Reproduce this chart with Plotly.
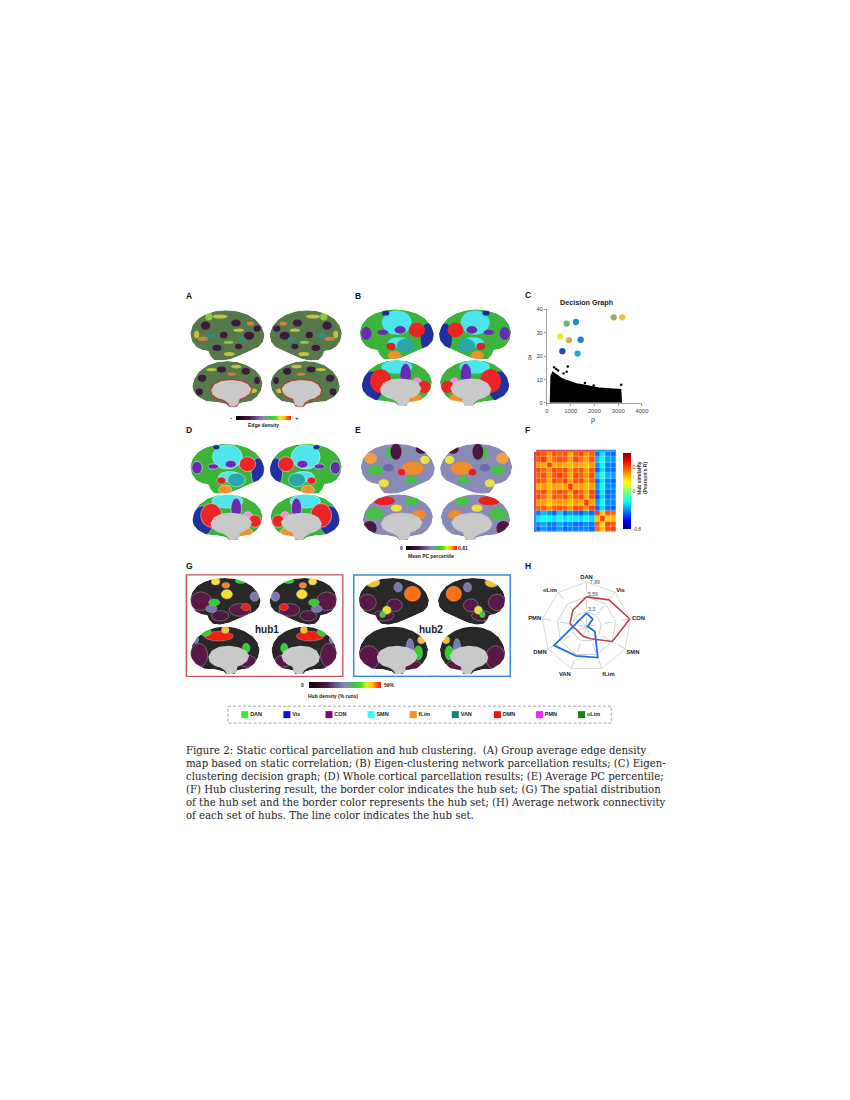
import plotly.graph_objects as go

W, H = 850, 1100
OFF = 8  # the page body margin the figure div sits inside
def X(px): return (px - OFF) / W
def Y(py): return 1 - (py - OFF) / H

# ---------------- data ----------------
# Panel C: decision graph
peak_rho = [560, 830, 1220, 930, 1420, 650, 1290, 2810, 3170]
peak_delta = [28.4, 33.9, 34.6, 26.8, 27.0, 22.1, 21.1, 36.6, 36.6]
peak_colors = ['#f2e232', '#5cb87c', '#1e90d2', '#d6ae52', '#1c80d0',
               '#2448b8', '#22a8c2', '#9ab062', '#e8c244']
cloud_rho = [150, 180, 250, 400, 600, 800, 1000, 1250, 1500, 1750, 2000,
             2250, 2500, 2750, 3000, 3100, 3130]
cloud_delta = [0, 11.5, 13.0, 11.8, 10.5, 9.6, 8.8, 8.1, 7.6, 7.1, 6.6,
               6.2, 6.0, 5.9, 5.8, 5.6, 0]
outlier_rho = [305, 390, 875, 833, 1600, 1970, 3125, 470, 700]
outlier_delta = [15.2, 14.5, 15.6, 13.3, 8.5, 7.4, 7.7, 13.8, 12.6]
c_xticks = [0, 1000, 2000, 3000, 4000]
c_yticks = [0, 10, 20, 30, 40]

# Panel F: hub similarity matrix (11 hubs of set 1, 4 hubs of set 2)
hub_sim = [
    [0.52, 0.48, 0.36, 0.50, 0.46, 0.49, 0.34, 0.47, 0.51, 0.37, 0.46, -0.45, -0.26, -0.41, -0.47],
    [0.48, 0.52, 0.34, 0.45, 0.49, 0.47, 0.36, 0.50, 0.44, 0.35, 0.48, -0.33, -0.20, -0.36, -0.38],
    [0.36, 0.34, 0.52, 0.33, 0.36, 0.32, 0.30, 0.35, 0.33, 0.29, 0.37, -0.40, -0.22, -0.42, -0.44],
    [0.50, 0.45, 0.33, 0.52, 0.48, 0.51, 0.36, 0.46, 0.49, 0.34, 0.47, -0.47, -0.27, -0.43, -0.46],
    [0.46, 0.49, 0.36, 0.48, 0.52, 0.46, 0.33, 0.50, 0.45, 0.37, 0.49, -0.31, -0.17, -0.34, -0.37],
    [0.49, 0.47, 0.32, 0.51, 0.46, 0.52, 0.36, 0.48, 0.50, 0.35, 0.46, -0.46, -0.26, -0.42, -0.48],
    [0.34, 0.36, 0.30, 0.36, 0.33, 0.36, 0.52, 0.34, 0.36, 0.30, 0.36, -0.38, -0.20, -0.40, -0.41],
    [0.47, 0.50, 0.35, 0.46, 0.50, 0.48, 0.34, 0.52, 0.47, 0.36, 0.51, -0.44, -0.25, -0.46, -0.43],
    [0.51, 0.44, 0.33, 0.49, 0.45, 0.50, 0.36, 0.47, 0.52, 0.33, 0.48, -0.48, -0.28, -0.45, -0.42],
    [0.37, 0.35, 0.29, 0.34, 0.37, 0.35, 0.30, 0.36, 0.33, 0.52, 0.35, -0.37, -0.19, -0.40, -0.41],
    [0.46, 0.48, 0.37, 0.47, 0.49, 0.46, 0.36, 0.51, 0.48, 0.35, 0.52, -0.46, -0.27, -0.44, -0.47],
    [-0.45, -0.33, -0.40, -0.47, -0.31, -0.46, -0.38, -0.44, -0.48, -0.37, -0.46, 0.52, 0.28, 0.47, 0.45],
    [-0.26, -0.20, -0.22, -0.27, -0.17, -0.26, -0.20, -0.25, -0.28, -0.19, -0.27, 0.28, 0.52, 0.26, 0.30],
    [-0.41, -0.36, -0.42, -0.43, -0.34, -0.42, -0.40, -0.46, -0.45, -0.40, -0.44, 0.47, 0.26, 0.52, 0.48],
    [-0.47, -0.38, -0.44, -0.46, -0.37, -0.48, -0.41, -0.43, -0.42, -0.41, -0.47, 0.45, 0.30, 0.48, 0.52],
]
n_hub1 = 11
sim_ticks = [-0.8, 0, 0.5]
sim_ticktext = ['-0.8', '0', '0.5']

# Panel H: average network connectivity of each hub set
networks = ['DAN', 'Vis', 'CON', 'SMN', 'fLim', 'VAN', 'DMN', 'PMN', 'oLim']
hub1_conn = [5.6, 6.4, 7.8, 5.6, 3.0, 2.6, 2.5, 3.6, 4.3]
hub2_conn = [3.1, 2.5, 1.2, 2.5, 6.1, 5.8, 6.8, 2.8, 2.5]
radar_ticks = [3.3, 5.59, 7.89]
radar_ticktext = ['3.3', '5.59', '7.89']

# network legend
net_colors = ['#33ee33', '#0a0af0', '#800080', '#33ffff', '#ff8c1a',
              '#138080', '#ee1111', '#ff22ff', '#138013']

caption = [
    "Figure 2: Static cortical parcellation and hub clustering.  (A) Group average edge density",
    "map based on static correlation; (B) Eigen-clustering network parcellation results; (C) Eigen-",
    "clustering decision graph; (D) Whole cortical parcellation results; (E) Average PC percentile;",
    "(F) Hub clustering result, the border color indicates the hub set; (G) The spatial distribution",
    "of the hub set and the border color represents the hub set; (H) Average network connectivity",
    "of each set of hubs. The line color indicates the hub set.",
]

# ---------------- styles ----------------
SANS = 'Liberation Sans, Arial, sans-serif'
SERIF = 'DejaVu Serif, serif'
RED = '#c8505a'
BLUE = '#3a8ae0'
jet = [[0, '#00007f'], [0.11, '#0000ff'], [0.36, '#00ffff'], [0.62, '#ffff00'],
       [0.89, '#ff0000'], [1, '#7f0000']]
dens = [[0, '#000000'], [0.12, '#2d0a24'], [0.25, '#4a1a4a'], [0.38, '#6a5a90'],
        [0.5, '#8a8ab8'], [0.62, '#4fb84f'], [0.72, '#40e020'], [0.8, '#e0f020'],
        [0.88, '#ffc000'], [0.94, '#ff6000'], [1, '#ff1a00']]

fig = go.Figure()

# ---------------- Panel C ----------------
fig.add_trace(go.Scatter(x=cloud_rho, y=cloud_delta, mode='lines', fill='tozeroy',
                         line=dict(color='black', width=1.5), fillcolor='black',
                         xaxis='x', yaxis='y', hoverinfo='skip', showlegend=False))
fig.add_trace(go.Scatter(x=outlier_rho, y=outlier_delta, mode='markers',
                         marker=dict(color='black', size=2.5), xaxis='x', yaxis='y',
                         showlegend=False))
fig.add_trace(go.Scatter(x=peak_rho, y=peak_delta, mode='markers',
                         marker=dict(color=peak_colors, size=6.3), xaxis='x', yaxis='y',
                         showlegend=False))

# ---------------- Panel F ----------------
fig.add_trace(go.Heatmap(z=hub_sim, colorscale=jet, zmin=-0.8, zmax=0.8,
                         xaxis='x2', yaxis='y2', showscale=True, xgap=0.3, ygap=0.3,
                         colorbar=dict(x=X(627), xanchor='left', y=Y(491), yanchor='middle',
                                       len=76, lenmode='pixels', thickness=8,
                                       thicknessmode='pixels', tickvals=sim_ticks,
                                       ticktext=sim_ticktext, ticks='', outlinewidth=0,
                                       xpad=0, ypad=0,
                                       tickfont=dict(size=5, family=SANS, color='#333'))))

# ---------------- Panel H ----------------
fig.add_trace(go.Scatterpolar(r=hub1_conn + hub1_conn[:1], theta=networks + networks[:1],
                              mode='lines', line=dict(color='#c0404c', width=1.6),
                              showlegend=False, subplot='polar'))
fig.add_trace(go.Scatterpolar(r=hub2_conn + hub2_conn[:1], theta=networks + networks[:1],
                              mode='lines', line=dict(color='#2070d8', width=1.8),
                              showlegend=False, subplot='polar'))

# ---------------- network legend ----------------
leg_x = [245 + 42.5 * i for i in range(len(networks))]
fig.add_trace(go.Scatter(x=leg_x, y=[715.5] * len(networks), mode='markers+text',
                         marker=dict(symbol='square', size=7, color=net_colors),
                         text=['<b>%s</b>' % n for n in networks], textposition='middle right',
                         textfont=dict(size=5.5, family=SANS, color='#222'),
                         xaxis='x9', yaxis='y9', showlegend=False, hoverinfo='skip'))

# ---------------- horizontal colour bars (A, E, G) ----------------
def hbar(cx, cy, length, thick):
    fig.add_trace(go.Scatter(x=[-100], y=[-100], mode='markers', xaxis='x9', yaxis='y9',
                             showlegend=False, hoverinfo='skip',
                             marker=dict(color=[0], cmin=0, cmax=1, colorscale=dens,
                                         showscale=True, size=1,
                                         colorbar=dict(orientation='h', x=X(cx), xanchor='center',
                                                       y=Y(cy), yanchor='middle', len=length,
                                                       lenmode='pixels', thickness=thick,
                                                       thicknessmode='pixels',
                                                       showticklabels=False, ticks='',
                                                       outlinewidth=0, xpad=0, ypad=0))))

hbar(264, 417, 55, 4)
hbar(433, 547.7, 51, 4)
hbar(346, 686, 72, 6)

# ---------------- brain surfaces (decorative) ----------------
LAT = [(0.0, 0.45), (0.03, 0.3), (0.1, 0.17), (0.2, 0.08), (0.33, 0.02), (0.48, 0.0),
       (0.63, 0.02), (0.77, 0.08), (0.88, 0.18), (0.96, 0.32), (1.0, 0.48), (0.98, 0.62),
       (0.92, 0.72), (0.8, 0.8), (0.68, 0.88), (0.55, 0.96), (0.42, 1.0), (0.32, 0.98),
       (0.27, 0.9), (0.24, 0.8), (0.16, 0.78), (0.08, 0.72), (0.02, 0.6)]
MED = [(0.0, 0.55), (0.03, 0.38), (0.1, 0.22), (0.22, 0.09), (0.36, 0.02), (0.5, 0.0),
       (0.64, 0.02), (0.78, 0.09), (0.9, 0.2), (0.97, 0.33), (1.0, 0.48), (0.98, 0.64),
       (0.92, 0.78), (0.84, 0.87), (0.74, 0.9), (0.67, 0.92), (0.64, 1.0), (0.52, 1.0),
       (0.48, 0.94), (0.36, 0.9), (0.2, 0.88), (0.08, 0.78), (0.02, 0.67)]
WALL = [(0.26, 0.63), (0.31, 0.5), (0.42, 0.42), (0.56, 0.4), (0.7, 0.43), (0.8, 0.5),
        (0.85, 0.61), (0.82, 0.72), (0.75, 0.8), (0.68, 0.84), (0.66, 0.96), (0.6, 1.0),
        (0.53, 1.0), (0.5, 0.92), (0.44, 0.86), (0.35, 0.82), (0.28, 0.74)]

STYLES = {
    'A': dict(base='#56794c', line=None, wall_line='#b0402a', lat=[
        ('#3d1a3e', 0.14, 0.22, 0.27, 0.38), ('#3d1a3e', 0.55, 0.18, 0.68, 0.32),
        ('#3d1a3e', 0.4, 0.42, 0.5, 0.55), ('#3d1a3e', 0.72, 0.42, 0.86, 0.58),
        ('#3d1a3e', 0.3, 0.68, 0.42, 0.8), ('#3d1a3e', 0.6, 0.66, 0.7, 0.77),
        ('#3d1a3e', 0.85, 0.3, 0.95, 0.42), ('#c4c23c', 0.3, 0.08, 0.5, 0.16),
        ('#c4c23c', 0.58, 0.36, 0.72, 0.42), ('#c4c23c', 0.45, 0.82, 0.6, 0.9),
        ('#c4c23c', 0.05, 0.4, 0.12, 0.55), ('#d8803a', 0.1, 0.52, 0.24, 0.6),
        ('#d8803a', 0.76, 0.22, 0.86, 0.3), ('#2f8c80', 0.22, 0.45, 0.34, 0.55),
        ('#2f8c80', 0.65, 0.52, 0.75, 0.62), ('#8cc840', 0.45, 0.6, 0.58, 0.66),
        ('#8cc840', 0.2, 0.05, 0.3, 0.2)], med=[
        ('#3d1a3e', 0.08, 0.3, 0.2, 0.45), ('#3d1a3e', 0.35, 0.12, 0.48, 0.25),
        ('#3d1a3e', 0.7, 0.15, 0.82, 0.3), ('#3d1a3e', 0.88, 0.35, 0.96, 0.5),
        ('#3d1a3e', 0.05, 0.6, 0.15, 0.75), ('#c4c23c', 0.2, 0.15, 0.35, 0.22),
        ('#c4c23c', 0.55, 0.08, 0.7, 0.16), ('#c4c23c', 0.82, 0.6, 0.92, 0.7),
        ('#d8803a', 0.5, 0.25, 0.62, 0.32)]),
    'B': dict(base='#3cb43c', line=None, wall_line=None, lat=[
        ('#4de6ec', 0.3, 0.02, 0.7, 0.5), ('#4de6ec', 0.38, 0.55, 0.68, 0.75),
        ('#2ba6a8', 0.5, 0.58, 0.74, 0.85), ('#2030a0', 0.82, 0.28, 1.0, 0.85),
        ('#ec2424', 0.66, 0.26, 0.88, 0.55), ('#6a2ab4', 0.02, 0.35, 0.16, 0.6),
        ('#6a2ab4', 0.47, 0.33, 0.62, 0.48), ('#6a2ab4', 0.24, 0.4, 0.38, 0.5),
        ('#f09030', 0.38, 0.82, 0.56, 1.0), ('#e02020', 0.36, 0.66, 0.48, 0.8),
        ('#1a2a90', 0.3, 0.02, 0.4, 0.12)], med=[
        ('#2030a0', 0.0, 0.25, 0.3, 0.9), ('#4de6ec', 0.28, 0.0, 0.72, 0.3),
        ('#ec2424', 0.12, 0.2, 0.42, 0.72), ('#6a2ab4', 0.55, 0.08, 0.7, 0.55),
        ('#f090e0', 0.72, 0.38, 0.86, 0.6), ('#ec2424', 0.8, 0.45, 0.98, 0.72),
        ('#f09030', 0.6, 0.72, 0.86, 0.95)]),
    'E': dict(base='#8a8ab6', line=None, wall_line=None, lat=[
        ('#f08c30', 0.55, 0.35, 0.85, 0.62), ('#f0a040', 0.05, 0.18, 0.22, 0.4),
        ('#46c046', 0.1, 0.42, 0.3, 0.62), ('#46c046', 0.33, 0.08, 0.5, 0.3),
        ('#46c046', 0.6, 0.64, 0.76, 0.8), ('#4a1840', 0.4, 0.0, 0.55, 0.32),
        ('#4a1840', 0.74, 0.02, 0.9, 0.2), ('#f0e040', 0.24, 0.7, 0.38, 0.86),
        ('#f0e040', 0.8, 0.24, 0.93, 0.4), ('#e82020', 0.5, 0.5, 0.6, 0.63),
        ('#6a6ab0', 0.3, 0.4, 0.45, 0.55)], med=[
        ('#e82020', 0.15, 0.04, 0.46, 0.24), ('#f0e040', 0.4, 0.22, 0.56, 0.38),
        ('#46c046', 0.04, 0.3, 0.3, 0.56), ('#46c046', 0.6, 0.04, 0.8, 0.24),
        ('#f08c30', 0.7, 0.34, 0.9, 0.55), ('#4a1840', 0.0, 0.58, 0.2, 0.9)]),
    'G1': dict(base='#282828', line='rgba(190,190,190,0.7)', wall_line=None, lat=[
        ('#5a1848', 0.0, 0.3, 0.3, 0.7), ('#5a1848', 0.55, 0.55, 0.86, 0.82),
        ('#4a1a40', 0.3, 0.7, 0.55, 0.92), ('#7a78b0', 0.22, 0.58, 0.38, 0.74),
        ('#f8e030', 0.44, 0.25, 0.6, 0.45), ('#f8e030', 0.3, 0.0, 0.42, 0.15),
        ('#30d030', 0.26, 0.45, 0.42, 0.6), ('#30d030', 0.64, 0.0, 0.8, 0.12),
        ('#f02010', 0.72, 0.55, 0.86, 0.7), ('#ff8020', 0.45, 0.1, 0.56, 0.22),
        ('#7a78b0', 0.85, 0.3, 0.98, 0.5)], med=[
        ('#5a1848', 0.0, 0.35, 0.25, 0.85), ('#5a1848', 0.7, 0.6, 0.95, 0.85),
        ('#f02010', 0.2, 0.1, 0.62, 0.3), ('#30d030', 0.14, 0.02, 0.3, 0.2),
        ('#30d030', 0.75, 0.35, 0.86, 0.55), ('#f8c030', 0.45, 0.0, 0.56, 0.14),
        ('#7a78b0', 0.0, 0.2, 0.12, 0.35)]),
    'G2': dict(base='#282828', line='rgba(190,190,190,0.7)', wall_line=None, lat=[
        ('#5a1848', 0.0, 0.35, 0.25, 0.7), ('#5a1848', 0.4, 0.45, 0.62, 0.72),
        ('#4a1a40', 0.2, 0.7, 0.5, 0.92), ('#ff7010', 0.65, 0.18, 0.88, 0.5),
        ('#f0c030', 0.1, 0.0, 0.3, 0.2), ('#e8e030', 0.34, 0.6, 0.46, 0.78),
        ('#7a78b0', 0.5, 0.1, 0.62, 0.3), ('#30d030', 0.3, 0.72, 0.38, 0.85)], med=[
        ('#5a1848', 0.0, 0.4, 0.3, 0.9), ('#5a1848', 0.6, 0.7, 0.9, 0.92),
        ('#7a78b0', 0.68, 0.25, 0.8, 0.7), ('#30d030', 0.8, 0.4, 0.92, 0.7),
        ('#f0c030', 0.85, 0.2, 0.96, 0.36)]),
}
STYLES['D'] = dict(STYLES['B'], line='rgba(255,255,255,0.75)')

BOX_STD = [('lat', False, (190, 309, 75, 51)), ('lat', True, (270, 309, 73, 51)),
           ('med', False, (192, 360, 71, 46)), ('med', True, (271, 360, 70, 46))]
BOX_G = [('lat', False, (190, 578, 71, 47)), ('lat', True, (270, 578, 68, 47)),
         ('med', False, (190, 627, 70, 48)), ('med', True, (272, 627, 66, 48))]
PANELS = [('A', BOX_STD, 0, 0), ('B', BOX_STD, 171, -1), ('D', BOX_STD, 0, 134),
          ('E', BOX_STD, 172, 134), ('G1', BOX_G, 0, 0), ('G2', BOX_G, 170, 0)]

shapes = []

def tf(pts, box, mirror):
    x0, y0, w, h = box
    return [(x0 + ((1 - u) if mirror else u) * w, y0 + v * h) for u, v in pts]

def area(pts):
    s = 0
    for i in range(len(pts)):
        x1, y1 = pts[i]
        x2, y2 = pts[(i + 1) % len(pts)]
        s += x1 * y2 - x2 * y1
    return s

def pstr(pts):
    return 'M' + ' L'.join('%.2f,%.2f' % p for p in pts) + ' Z'

for key, boxes, dx, dy in PANELS:
    st = STYLES[key]
    for kind, mirror, (bx, by, bw, bh) in boxes:
        box = (bx + dx, by + dy, bw, bh)
        outline = tf(LAT if kind == 'lat' else MED, box, mirror)
        shapes.append(dict(type='path', path=pstr(outline), xref='x9', yref='y9',
                           fillcolor=st['base'], line=dict(width=0), layer='above'))
        for col, u0, v0, u1, v1 in st[kind]:
            if mirror:
                u0, u1 = 1 - u1, 1 - u0
            ln = dict(width=0.6, color=st['line']) if st['line'] else dict(width=0)
            shapes.append(dict(type='circle', xref='x9', yref='y9',
                               x0=box[0] + u0 * bw, x1=box[0] + u1 * bw,
                               y0=box[1] + v0 * bh, y1=box[1] + v1 * bh,
                               fillcolor=col, line=ln, layer='above'))
        if kind == 'med':
            wl = dict(width=1.2, color=st['wall_line']) if st['wall_line'] else dict(width=0)
            shapes.append(dict(type='path', path=pstr(tf(WALL, box, mirror)), xref='x9',
                               yref='y9', fillcolor='#c9c9c9', line=wl, layer='above'))
        rect = tf([(-0.02, -0.02), (1.02, -0.02), (1.02, 1.02), (-0.02, 1.02)], box, mirror)
        if (area(rect) > 0) == (area(outline) > 0):
            rect = rect[::-1]
        shapes.append(dict(type='path', path=pstr(rect) + ' ' + pstr(outline), xref='x9',
                           yref='y9', fillcolor='white', line=dict(width=0), layer='above'))

# hub-set boxes in G
shapes.append(dict(type='rect', xref='x9', yref='y9', x0=186, x1=344, y0=575, y1=677,
                   line=dict(color=RED, width=1.3), layer='below'))
shapes.append(dict(type='rect', xref='x9', yref='y9', x0=355, x1=513, y0=575, y1=677,
                   line=dict(color=BLUE, width=1.5), layer='below'))
# legend box
shapes.append(dict(type='rect', xref='x9', yref='y9', x0=228, x1=615, y0=707, y1=724,
                   line=dict(color='#8a8a8a', width=0.8, dash='3px,2px'), layer='below'))
# hub-set borders in F
shapes += [
    dict(type='rect', xref='x2', yref='y2', x0=-0.5, x1=n_hub1 - 0.5, y0=-0.9, y1=-0.5,
         fillcolor=RED, line=dict(width=0)),
    dict(type='rect', xref='x2', yref='y2', x0=n_hub1 - 0.5, x1=len(hub_sim) - 0.5,
         y0=-0.9, y1=-0.5, fillcolor=BLUE, line=dict(width=0)),
    dict(type='rect', xref='x2', yref='y2', y0=-0.5, y1=n_hub1 - 0.5, x0=-0.9, x1=-0.5,
         fillcolor=RED, line=dict(width=0)),
    dict(type='rect', xref='x2', yref='y2', y0=n_hub1 - 0.5, y1=len(hub_sim) - 0.5,
         x0=-0.9, x1=-0.5, fillcolor=BLUE, line=dict(width=0)),
]

# ---------------- annotations ----------------
ann = []
def txt(x, y, s, size=6, bold=False, color='#222', family=SANS, xanchor='center', **kw):
    ann.append(dict(x=X(x), y=Y(y), xref='paper', yref='paper', showarrow=False,
                    text=('<b>%s</b>' % s) if bold else s, xanchor=xanchor, yanchor='middle',
                    font=dict(size=size, color=color, family=family), **kw))

for lab, (lx, ly) in zip('ABCDEFGH', [(189, 295), (359, 295), (531, 294), (189, 429),
                                      (359, 429), (530, 429), (189, 566), (531, 566)]):
    txt(lx, ly, lab, size=8.5, bold=True, color='#111')

txt(590, 301, 'Decision Graph', size=7.2, bold=True, color='#222')
txt(533, 356, 'δ', size=7, color='#333')
txt(597, 419, 'ρ', size=7, color='#333')
txt(231.5, 417.5, '-', size=6, bold=True)
txt(297.5, 417.5, '+', size=6, bold=True)
txt(264, 424.5, 'Edge density', size=5, bold=True)
txt(403, 548, '0', size=5, bold=True)
txt(465, 548, '0.81', size=5, bold=True)
txt(433, 556, 'Mean PC percentile', size=5, bold=True)
txt(303.5, 686, '0', size=5, bold=True)
txt(391, 686, '59%', size=5, bold=True)
txt(334, 697, 'Hub density (% runs)', size=5, bold=True)
txt(267, 630, 'hub1', size=10, bold=True, color='#1a1a1a')
txt(433, 630, 'hub2', size=10, bold=True, color='#1a1a1a')
txt(646, 477, 'Hub similarity<br>(Pearson\'s R)', size=5, bold=True, color='#333',
    textangle=-90)
# radial tick labels of the radar chart, placed beside the DAN spoke
for (lx, ly), t in zip([(595, 609), (597, 594), (599, 582)], radar_ticktext):
    txt(lx, ly, t, size=5, color='#444')
for i, line in enumerate(caption):
    txt(184, 751.5 + 13.05 * i, line, size=10.15, family=SERIF, color='#222', xanchor='left')

# ---------------- layout ----------------
axis_c = dict(showline=True, linecolor='#a0a0a0', linewidth=0.8, ticks='outside', ticklen=2,
              tickcolor='#a0a0a0', tickfont=dict(size=5.8, family=SANS, color='#444'),
              showgrid=False, zeroline=False, fixedrange=True)

fig.update_layout(
    width=W, height=H, margin=dict(l=0, r=0, t=0, b=0), autosize=False,
    paper_bgcolor='white', plot_bgcolor='rgba(0,0,0,0)', showlegend=False,
    xaxis=dict(domain=[X(550), X(646)], range=[0, 4000], tickvals=c_xticks, anchor='y',
               **axis_c),
    yaxis=dict(domain=[Y(402), Y(308)], range=[0, 40], tickvals=c_yticks, anchor='x',
               **axis_c),
    xaxis2=dict(domain=[X(537), X(620)], range=[-0.9, len(hub_sim) - 0.5], visible=False,
                anchor='y2', fixedrange=True),
    yaxis2=dict(domain=[Y(532), Y(449)], range=[len(hub_sim) - 0.5, -0.9], visible=False,
                anchor='x2', fixedrange=True),
    xaxis9=dict(domain=[0, 1], range=[OFF, W + OFF], visible=False, anchor='y9',
                fixedrange=True),
    yaxis9=dict(domain=[0, 1], range=[H + OFF, OFF], visible=False, anchor='x9',
                fixedrange=True),
    polar=dict(
        domain=dict(x=[X(545), X(635)], y=[Y(672), Y(582)]),
        bgcolor='white', gridshape='linear',
        angularaxis=dict(rotation=90, direction='clockwise', categoryorder='array',
                         categoryarray=networks, gridcolor='#cfcfcf', griddash='dash',
                         linecolor='#cfcfcf', linewidth=0.8, ticks='',
                         tickfont=dict(size=5.8, family=SANS, color='#222', weight='bold')),
        radialaxis=dict(range=[1.01, 7.89], tickvals=radar_ticks, showticklabels=False,
                        showline=False, gridcolor='#cfcfcf', ticks=''),
    ),
    shapes=shapes, annotations=ann,
)

fig.write_html('out.html')
